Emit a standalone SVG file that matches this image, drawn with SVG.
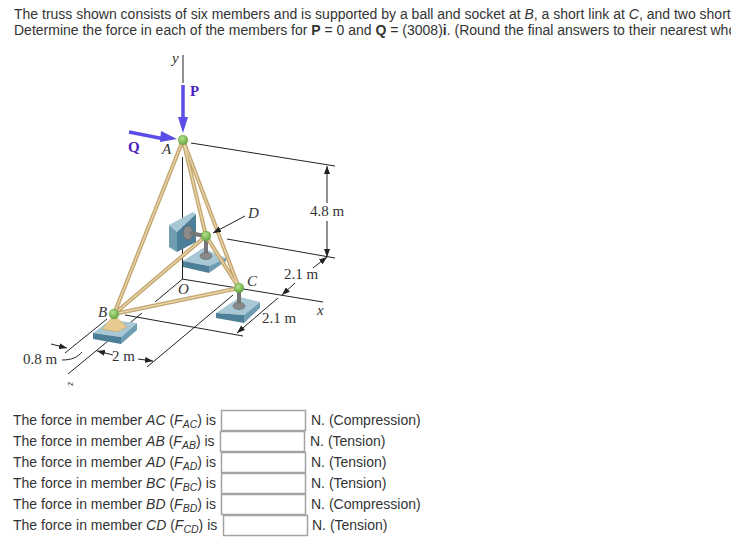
<svg xmlns="http://www.w3.org/2000/svg" width="731" height="548" viewBox="0 0 731 548">
<style>
.t{font-family:"Liberation Sans",Arial,sans-serif;font-size:14px;fill:#333}
.h{font-family:"Liberation Sans",Arial,sans-serif;font-size:14px;fill:#333}
.s{font-size:10.5px}
.f{font-family:"Liberation Serif","Times New Roman",serif;font-size:15px;fill:#333}
.i{font-style:italic}
.q{font-family:"Liberation Serif","Times New Roman",serif;font-size:15px;font-weight:bold;fill:#4a1fc0}
.l{stroke:#222;stroke-width:1;fill:none}
.m{stroke:#c4a56e;stroke-width:4;fill:none}
.m2{stroke:#e8d6ae;stroke-width:1.3;fill:none}
.b{fill:#fff;stroke:#a3a3a3;stroke-width:1.5}
.top{fill:#a9c8d5}.side{fill:#6f9db2}.front{fill:#4d7f98}
.post{stroke:#777;stroke-width:4;fill:none}
.foot{fill:#8a8a8a;stroke:#555;stroke-width:.5}
.v{fill:url(#ball);stroke:#5d9a3a;stroke-width:.5}
</style>
<defs>
<radialGradient id="ball" cx=".4" cy=".35" r=".7"><stop offset="0" stop-color="#b5e08a"/><stop offset="1" stop-color="#5fa53d"/></radialGradient>
<marker id="a" viewBox="0 0 8 6" refX="8" refY="3" markerWidth="8" markerHeight="6" markerUnits="userSpaceOnUse" orient="auto-start-reverse"><path d="M0 0L8 3L0 6z" fill="#222"/></marker>
</defs>
<text class="h" x="14" y="19">The truss shown consists of six members and is supported by a ball and socket at <tspan class="i">B</tspan>, a short link at <tspan class="i">C</tspan>, and two short</text>
<text class="h" x="14" y="35">Determine the force in each of the members for <tspan font-weight="bold">P</tspan> = 0 and <tspan font-weight="bold">Q</tspan> = (3008)<tspan font-weight="bold">i</tspan>. (Round the final answers to their nearest who</text>
<g id="connectors">
<path class="l" d="M183 55V83M182.500 157V279L155 302M142 313L68 374M182 279L323 302"/>
<path class="l" d="M191 143L335 166M227 239L335 258M107 319L65 353M233 295L147 367M125 315L243 336"/>
<path class="l" d="M327 203V166" marker-end="url(#a)"/>
<path class="l" d="M327 221V257" marker-end="url(#a)"/>
<path class="l" d="M313 268L327 257" marker-end="url(#a)"/>
<path class="l" d="M295 283L282 295" marker-end="url(#a)"/>
<path class="l" d="M278 298L237 333" marker-end="url(#a)"/>
<path class="l" d="M51 344L67 348" marker-end="url(#a)"/>
<path class="l" d="M62 360C72 360 78 357 82 352"/>
<path class="l" d="M113 355L97 351" marker-end="url(#a)"/>
<path class="l" d="M138 359L153 361" marker-end="url(#a)"/>
</g>
<g id="supports">
<path class="top" d="M169 225L193 212L196 214L177 232z"/>
<path class="side" d="M169 225L177 232V252L169 247z"/>
<path class="front" d="M177 232L196 214V242L177 252z"/>
<ellipse class="foot" cx="188" cy="233" rx="5" ry="7"/>
<path class="post" d="M190 233L205 236"/>
<path class="top" d="M183 261L203 248L226 258L209 266z"/>
<path class="front" d="M183 261L209 266V273L183 267z"/>
<path class="side" d="M209 266L226 258V261L209 273z"/>
<path class="post" d="M206 238V255"/>
<ellipse class="foot" cx="206" cy="256" rx="6" ry="3.500"/>
<path class="top" d="M216 313L240 297L260 302L244 315z"/>
<path class="front" d="M216 313L244 315V323L216 318z"/>
<path class="side" d="M244 315L260 302V308L244 323z"/>
<path class="post" d="M239 290V305"/>
<ellipse class="foot" cx="239" cy="306" rx="6" ry="3.500"/>
<path class="top" d="M93 333L110 320L137 323L121 337z"/>
<path class="front" d="M93 333L121 337V344L93 339z"/>
<path class="side" d="M121 337L137 323V330L121 344z"/>
<path d="M102 329L114 315L127 327L117 332z" fill="#e8c98f" stroke="#b89a62" stroke-width=".5"/>
</g>
<g id="members">
<path class="m" d="M114 314L183 140M114 314L239 288M114 314L206 236M183 140L239 288M183 140L206 236M206 236L239 288"/>
<path class="m2" d="M114 314L183 140M114 314L239 288M114 314L206 236M183 140L239 288M183 140L206 236M206 236L239 288"/>
</g>
<path id="leader" class="l" d="M245 216L213 233" marker-end="url(#a)"/>
<g id="A"><circle class="v" cx="183" cy="140" r="4.800"/><text class="f i" x="162" y="154">A</text></g>
<g id="B"><circle class="v" cx="114" cy="314" r="4.800"/><text class="f i" x="98" y="317">B</text></g>
<g id="C"><circle class="v" cx="239" cy="288" r="4.800"/><text class="f i" x="247" y="286">C</text></g>
<g id="D"><circle class="v" cx="206" cy="236" r="4.800"/><text class="f i" x="248" y="218">D</text></g>
<g id="O"><text class="f i" x="178" y="294">O</text></g>
<g id="loads">
<path d="M183 85V118" stroke="#5b4ee6" stroke-width="3.500" fill="none"/>
<path d="M178 117H188L183 133z" fill="#5b4ee6"/>
<path d="M129 132L162 138.500" stroke="#5b4ee6" stroke-width="3.500" fill="none"/>
<path d="M161 131L177 139L160 142z" fill="#5b4ee6"/>
<text class="q" x="190" y="96">P</text>
<text class="q" x="128" y="152">Q</text>
</g>
<g id="dims">
<text class="f i" x="172" y="63">y</text>
<text class="f i" x="317" y="315">x</text>
<text class="f i" x="67" y="387" transform="rotate(90 70 385)" style="font-size:10px">z</text>
<text class="f" x="310" y="216">4.8 m</text>
<text class="f" x="284" y="279">2.1 m</text>
<text class="f" x="262" y="323">2.1 m</text>
<text class="f" x="23" y="364">0.8 m</text>
<text class="f" x="112" y="361">2 m</text>
</g>
<g id="form">
<text class="t" x="13" y="425">The force in member <tspan class="i">AC</tspan> (<tspan class="i">F</tspan><tspan class="i s" dy="3">AC</tspan><tspan dy="-3">) is</tspan></text>
<rect class="b" x="221.500" y="410.500" width="84" height="20"/>
<text class="t" x="311" y="425">N. (Compression)</text>
<text class="t" x="13" y="446">The force in member <tspan class="i">AB</tspan> (<tspan class="i">F</tspan><tspan class="i s" dy="3">AB</tspan><tspan dy="-3">) is</tspan></text>
<rect class="b" x="220.500" y="431.500" width="84" height="20"/>
<text class="t" x="310" y="446">N. (Tension)</text>
<text class="t" x="13" y="467">The force in member <tspan class="i">AD</tspan> (<tspan class="i">F</tspan><tspan class="i s" dy="3">AD</tspan><tspan dy="-3">) is</tspan></text>
<rect class="b" x="221.500" y="452.500" width="84" height="20"/>
<text class="t" x="311" y="467">N. (Tension)</text>
<text class="t" x="13" y="488">The force in member <tspan class="i">BC</tspan> (<tspan class="i">F</tspan><tspan class="i s" dy="3">BC</tspan><tspan dy="-3">) is</tspan></text>
<rect class="b" x="221.500" y="473.500" width="84" height="20"/>
<text class="t" x="311" y="488">N. (Tension)</text>
<text class="t" x="13" y="509">The force in member <tspan class="i">BD</tspan> (<tspan class="i">F</tspan><tspan class="i s" dy="3">BD</tspan><tspan dy="-3">) is</tspan></text>
<rect class="b" x="221.500" y="494.500" width="84" height="20"/>
<text class="t" x="311" y="509">N. (Compression)</text>
<text class="t" x="13" y="530">The force in member <tspan class="i">CD</tspan> (<tspan class="i">F</tspan><tspan class="i s" dy="3">CD</tspan><tspan dy="-3">) is</tspan></text>
<rect class="b" x="223.500" y="515.500" width="84" height="20"/>
<text class="t" x="312" y="530">N. (Tension)</text>
</g>
</svg>
